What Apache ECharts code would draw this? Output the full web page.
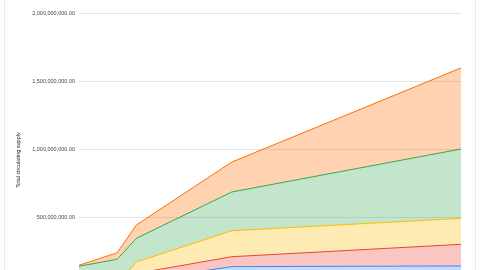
<!DOCTYPE html>
<html>
<head>
<meta charset="utf-8">
<script src="https://cdn.jsdelivr.net/npm/echarts@6/dist/echarts.min.js"></script>
<style>
html,body{margin:0;padding:0;background:#fff;}
#c{width:480px;height:270px;}
</style>
</head>
<body>
<div id="c"></div>
<script>
// x positions (periods)
const periods = [0, 2, 3, 8, 20];
// stacked series values (bottom to top)
const blueVals   = [0, 0, 30000000, 135000000, 140000000];
const redVals    = [0, 0, 55000000, 73000000, 159000000];
const yellowVals = [0, 0, 84000000, 191000000, 191000000];
const greenVals  = [138000000, 189000000, 174000000, 285000000, 510000000];
const orangeVals = [7000000, 48000000, 98000000, 220000000, 596000000];
const seriesNames = ['Series A', 'Series B', 'Series C', 'Series D', 'Series E'];
const seriesColors = ['#4285F4', '#EA4335', '#FBBC04', '#34A853', '#FF6D01'];
const yTicks = [0, 500000000, 1000000000, 1500000000, 2000000000];
const yTitle = 'Total circulating supply';

const allVals = [blueVals, redVals, yellowVals, greenVals, orangeVals];
const chart = echarts.init(document.getElementById('c'), null, {renderer: 'canvas'});

const series = allVals.map((vals, i) => ({
  name: seriesNames[i],
  type: 'line',
  stack: 'total',
  data: periods.map((p, j) => [p, vals[j]]),
  showSymbol: false,
  symbol: 'none',
  lineStyle: {width: 1, color: seriesColors[i]},
  itemStyle: {color: seriesColors[i]},
  areaStyle: {color: seriesColors[i], opacity: 0.3},
  emphasis: {disabled: true},
  animation: false
}));

chart.setOption({
  animation: false,
  backgroundColor: '#fff',
  grid: {left: 79, right: 19, top: 13, height: 272, outerBoundsMode: 'none', containLabel: false},
  xAxis: {
    type: 'time', min: periods[0], max: periods[periods.length - 1],
    axisLabel: {show: false}, axisLine: {show: false}, axisTick: {show: false}, splitLine: {show: false}
  },
  yAxis: {
    type: 'value', min: yTicks[0], max: yTicks[yTicks.length - 1], interval: yTicks[1] - yTicks[0],
    name: yTitle, nameLocation: 'middle', nameGap: 48, nameRotate: 90,
    nameTextStyle: {fontFamily: 'Liberation Sans, Arial', fontSize: 5.5, color: '#222', padding: [0, 22, 0, 0]},
    axisLine: {show: false}, axisTick: {show: false},
    axisLabel: {
      margin: 4, fontFamily: 'Liberation Sans, Arial', fontSize: 5.5, color: '#444',
      formatter: v => v.toLocaleString('en-US', {minimumFractionDigits: 2, maximumFractionDigits: 2})
    },
    splitLine: {lineStyle: {color: '#e3e3e3', width: 1}}
  },
  graphic: [
    {type: 'line', shape: {x1: 4.5, y1: 0, x2: 4.5, y2: 270}, style: {stroke: '#ebebeb', lineWidth: 1}, silent: true},
    {type: 'line', shape: {x1: 475.5, y1: 0, x2: 475.5, y2: 270}, style: {stroke: '#ebebeb', lineWidth: 1}, silent: true}
  ],
  series: series
});
</script>
</body>
</html>
